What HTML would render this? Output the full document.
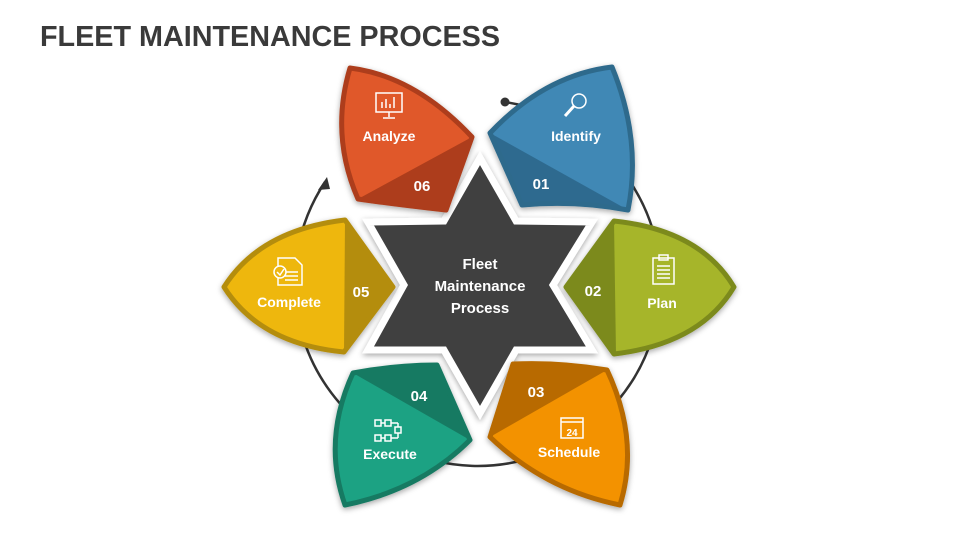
<!DOCTYPE html>
<html><head><meta charset="utf-8"><style>
html,body{margin:0;padding:0;background:#fff;}
svg{display:block;}
text{font-family:"Liberation Sans",Arial,sans-serif;font-weight:bold;fill:#fff;}
</style></head><body>
<svg width="960" height="540" viewBox="0 0 960 540" xmlns="http://www.w3.org/2000/svg">
<defs>
<filter id="sh" x="-20%" y="-20%" width="140%" height="140%">
<feDropShadow dx="0" dy="2" stdDeviation="3" flood-color="#000" flood-opacity="0.35"/>
</filter>
</defs>
<text x="40" y="46" font-size="29" style="fill:#3a3a3a" textLength="460" lengthAdjust="spacingAndGlyphs">FLEET MAINTENANCE PROCESS</text>

<!-- ring -->
<path d="M505,102 A183,183 0 1 1 325,182" fill="none" stroke="#333" stroke-width="2.5"/>
<circle cx="505" cy="102" r="4.5" fill="#333"/>
<polygon points="327,177 318,190 330,189" fill="#333"/>

<!-- star -->
<polygon points="480,158 516,221 592,222 553,285 592,350 516,350 480,413 444,350 368,350 404,285 368,222 444,221" fill="#404040" stroke="#fff" stroke-width="7" stroke-linejoin="miter" filter="url(#sh)"/>

<!-- Identify -->
<g filter="url(#sh)">
<path d="M490,133 Q545,75 612,67 Q642,140 628,210 Q575,200 522,205 Z" fill="#3f88b5"/>
<path d="M490,133 L628,210 Q575,200 522,205 Z" fill="#2f6a8f"/>
<path d="M490,133 Q545,75 612,67 Q642,140 628,210 Q575,200 522,205 Z" fill="none" stroke="#2e6a8c" stroke-width="5" stroke-linejoin="round"/>
</g>
<!-- Analyze -->
<g filter="url(#sh)">
<path d="M472,137 Q415,76 350,68 Q330,135 358,199 Q400,205 446,210 Z" fill="#e0592a"/>
<path d="M472,137 L358,199 Q400,205 446,210 Z" fill="#ad3e1b"/>
<path d="M472,137 Q415,76 350,68 Q330,135 358,199 Q400,205 446,210 Z" fill="none" stroke="#ad3e1b" stroke-width="5" stroke-linejoin="round"/>
</g>
<!-- Plan -->
<g filter="url(#sh)">
<path d="M566,287 L614,221 Q700,230 734,287 Q700,344 614,354 Z" fill="#a6b52a"/>
<path d="M566,287 L614,221 L616,354 Z" fill="#7c8a1f"/>
<path d="M566,287 L614,221 Q700,230 734,287 Q700,344 614,354 Z" fill="none" stroke="#7c8a1f" stroke-width="5" stroke-linejoin="round"/>
</g>
<!-- Complete -->
<g filter="url(#sh)">
<path d="M393,287 L345,220 Q260,230 224,287 Q260,344 344,352 Z" fill="#eeb711"/>
<path d="M393,287 L345,220 L344,352 Z" fill="#b48d0b"/>
<path d="M393,287 L345,220 Q260,230 224,287 Q260,344 344,352 Z" fill="none" stroke="#b48d0b" stroke-width="5" stroke-linejoin="round"/>
</g>
<!-- Schedule -->
<g filter="url(#sh)">
<path d="M490,437 L513,364 Q560,362 607,370 Q640,440 620,505 Q545,490 490,437 Z" fill="#f39200"/>
<path d="M490,437 L513,364 Q560,362 607,370 Z" fill="#b86b00"/>
<path d="M490,437 L513,364 Q560,362 607,370 Q640,440 620,505 Q545,490 490,437 Z" fill="none" stroke="#b86b00" stroke-width="5" stroke-linejoin="round"/>
</g>
<!-- Execute -->
<g filter="url(#sh)">
<path d="M470,440 L437,365 Q395,365 353,373 Q322,440 345,505 Q420,490 470,440 Z" fill="#1fa283"/>
<path d="M470,440 L437,365 Q395,365 353,373 Z" fill="#157a62"/>
<path d="M470,440 L437,365 Q395,365 353,373 Q322,440 345,505 Q420,490 470,440 Z" fill="none" stroke="#157a62" stroke-width="5" stroke-linejoin="round"/>
</g>

<!-- center text -->
<text x="480" y="269" font-size="15" text-anchor="middle">Fleet</text>
<text x="480" y="291" font-size="15" text-anchor="middle">Maintenance</text>
<text x="480" y="313" font-size="15" text-anchor="middle">Process</text>

<!-- labels -->
<text x="576" y="141" font-size="14" text-anchor="middle">Identify</text>
<text x="541" y="189" font-size="15" text-anchor="middle">01</text>
<text x="389" y="141" font-size="14" text-anchor="middle">Analyze</text>
<text x="422" y="191" font-size="15" text-anchor="middle">06</text>
<text x="662" y="308" font-size="14" text-anchor="middle">Plan</text>
<text x="593" y="296" font-size="15" text-anchor="middle">02</text>
<text x="289" y="307" font-size="14" text-anchor="middle">Complete</text>
<text x="361" y="297" font-size="15" text-anchor="middle">05</text>
<text x="569" y="457" font-size="14" text-anchor="middle">Schedule</text>
<text x="536" y="397" font-size="15" text-anchor="middle">03</text>
<text x="390" y="459" font-size="14" text-anchor="middle">Execute</text>
<text x="419" y="401" font-size="15" text-anchor="middle">04</text>

<!-- icons -->
<g fill="none" stroke="#fff" stroke-width="1.5">
<rect x="376" y="93" width="26" height="19"/>
<line x1="389" y1="112" x2="389" y2="117"/><line x1="383" y1="118" x2="395" y2="118"/>
<line x1="382" y1="108" x2="382" y2="102"/><line x1="386" y1="108" x2="386" y2="99"/><line x1="390" y1="108" x2="390" y2="104"/><line x1="394" y1="108" x2="394" y2="97"/>
<circle cx="579" cy="101" r="7"/>
<line x1="574" y1="106" x2="565" y2="116" stroke-width="3"/>
<rect x="653" y="258" width="21" height="26"/>
<rect x="659" y="255" width="9" height="5"/>
<line x1="657" y1="266" x2="670" y2="266"/><line x1="657" y1="270" x2="670" y2="270"/><line x1="657" y1="274" x2="670" y2="274"/><line x1="657" y1="278" x2="670" y2="278"/>
<path d="M278,258 L295,258 L302,265 L302,285 L278,285 Z"/>
<line x1="285" y1="272" x2="298" y2="272"/><line x1="285" y1="276" x2="298" y2="276"/><line x1="285" y1="280" x2="298" y2="280"/>
<circle cx="280" cy="272" r="6" fill="#eeb711"/>
<path d="M277,272 L280,275 L284,269"/>
<rect x="561" y="418" width="22" height="20"/>
<line x1="561" y1="422" x2="583" y2="422"/>
<rect x="375" y="420" width="6" height="6"/><rect x="385" y="420" width="6" height="6"/>
<rect x="395" y="427" width="6" height="6"/>
<rect x="375" y="435" width="6" height="6"/><rect x="385" y="435" width="6" height="6"/>
<line x1="381" y1="423" x2="385" y2="423"/><line x1="391" y1="423" x2="398" y2="423"/><line x1="398" y1="423" x2="398" y2="427"/>
<line x1="381" y1="438" x2="385" y2="438"/><line x1="391" y1="438" x2="398" y2="438"/><line x1="398" y1="438" x2="398" y2="433"/>
</g>
<text x="572" y="436" font-size="10" text-anchor="middle">24</text>
</svg>
</body></html>
